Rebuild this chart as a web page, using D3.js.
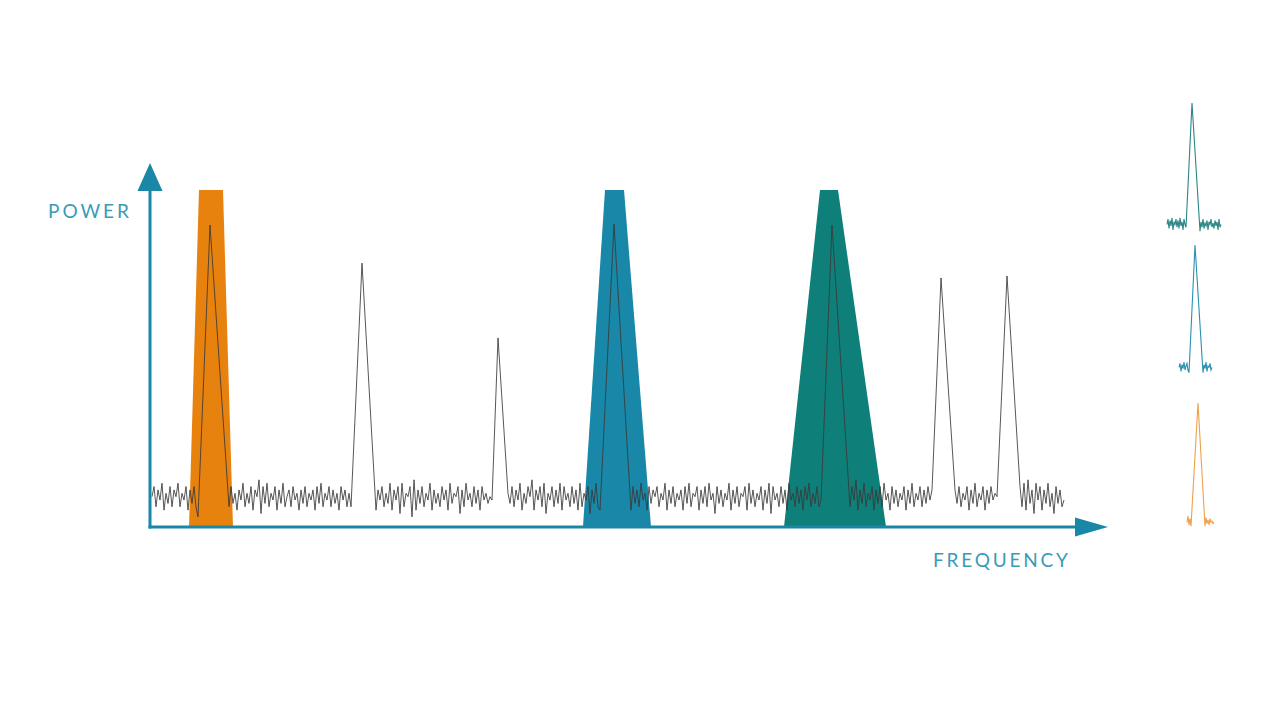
<!DOCTYPE html>
<html><head><meta charset="utf-8">
<script src="https://cdn.jsdelivr.net/npm/d3@7"></script>
<style>
html,body{margin:0;padding:0;background:#fff;}
svg{display:block;}
</style></head>
<body>
<svg id="c" width="1280" height="720"></svg>
<script>
// ---------- DATA ----------
// Frequency units 0..925, power units 0..100
const axisLabels = ["POWER", "FREQUENCY"];

// noise segments: start frequency, then sampled values every 2 units
const noiseStarts = [2, 79, 226, 358, 481, 700, 805, 870];
const noiseA = [9,12,6,11,8,13,5,10,7,12,6,11,9,13,6,10,8,12,5,11,7,12,6,3];
const noiseB = [6,12,7,10,5,11,8,13,6,10,7,12,5,11,9,14,4,12,7,13,6,10,8,12,5,11,7,13,6,9,11,6,12,8,10,5,11,7,12,6,10,8,11,5,12,7,13,6,10,8,12,6,11,7,10,5,12,8,11,6,10,6];
const noiseC = [5,11,8,12,6,10,7,13,5,11,8,12,4,13,6,10,9,12,3,14,5,11,7,12,6,10,8,13,5,11,7,10,6,12,8,11,5,13,7,10,9,12,4,11,6,13,8,10,6,12,7,11,5,12,8,10,7,9,8];
const noiseD = [10,7,12,6,11,8,13,5,10,7,12,9,14,5,11,8,12,6,13,4,10,8,12,6,11,7,13,5,12,8,10,6,12,7,11,5,13,6,10,8,12,4,11,7,13,6,5];
const noiseE = [5,12,7,11,6,13,8,10,5,12,7,11,9,12,6,10,8,13,5,11,7,12,6,10,8,11,5,12,7,13,6,10,9,12,5,11,7,12,6,13,8,10,4,12,7,11,6,10,8,13,5,11,7,12,6,10,9,12,5,13,7,11,6,10,8,12,5,11,7,13,4,12,8,10,6,12,7,11,5,13,8,10,6,12,7,11,5,12,8,13,6,10,7,12,6,8];
const noiseF = [6,12,8,14,5,11,7,13,6,10,8,12,5,11,7,12,6,13,8,10,5,12,7,11,6,10,8,12,5,11,7,13,6,10,8,12,6,11,7,12,8,11];
const noiseG = [11,7,12,6,10,8,12,5,11,7,13,6,10,8,12,5,11,7,12,8,10,9];
const noiseH = [12,6,13,5,14,7,11,4,13,8,12,5,11,7,13,6,10,4,12,7,11,6,8];
const noiseSegments = [noiseA, noiseB, noiseC, noiseD, noiseE, noiseF, noiseG, noiseH];

// peaks between segments
const peakFreq  = [60, 212, 348, 464, 682, 791, 857];
const peakPower = [89.6, 78.3, 56.1, 89.9, 89.6, 73.9, 74.5];

// highlighted bands: bottom left/right, top left/right (frequency), top power
const bandNames = ["orange", "blue", "green"];
const bandBottom = [[39, 83], [433, 501], [634, 736]];
const bandTop    = [[49, 73], [455, 474], [670, 688]];
const bandPower  = [100, 100, 100];

// mini spectra on the right (local frequency, local power)
const miniNoiseLeft = [
  [10,14,7,13,9,15,6,12,10,14,8,13,7,15,9,12,6,14,10,8],
  [8,11,5,10,7,12,6,9,11,6,4],
  [6,11,4,9,3]
];
const miniNoiseRight = [
  [5,12,8,14,7,11,9,13,6,12,10,14,8,11,7,13,9,12,6,14,8,10],
  [4,10,7,12,5,9,8,11,6,8],
  [3,10,5,8,4,9,6,7,5,6]
];
const miniLeftStart  = [0, 0, 0];
const miniRightStart = [33, 24, 18];
const miniPeakFreq   = [25, 16, 11];
const miniPeakPower  = [100, 100, 100];
const miniDomainX    = [55, 34, 28];

// ---------- LAYOUT ----------
const W = 1280, H = 720;
const plot = {left:150, right:1075, bottom:527, top:190};
const axisColor = "#1b87a6";
const textColor = "#3a9bb7";
const bandColors = ["#e8820e", "#1887a8", "#0f7f79"];
const miniColors = ["#2a8586", "#2b8fb0", "#eea04c"];
const miniBoxes = [
  {x0:1167, x1:1222, yBase:238, yTop:103},
  {x0:1179, x1:1213, yBase:378, yTop:245},
  {x0:1187, x1:1215, yBase:530, yTop:403}
];

const svg = d3.select("#c");
const x = d3.scaleLinear().domain([0, 925]).range([plot.left, plot.right]);
const y = d3.scaleLinear().domain([0, 100]).range([plot.bottom, plot.top]);

// bands
const bandData = bandNames.map((n, i) => [
  [bandBottom[i][0], 0], [bandTop[i][0], bandPower[i]],
  [bandTop[i][1], bandPower[i]], [bandBottom[i][1], 0]
]);
svg.append("g").selectAll("path").data(bandData).join("path")
  .attr("d", d => "M" + d.map(p => x(p[0]) + "," + y(p[1])).join("L") + "Z")
  .attr("fill", (d, i) => bandColors[i]);

// spectrum line
const series = [];
noiseSegments.forEach((seg, i) => {
  seg.forEach((v, j) => series.push({f: noiseStarts[i] + j * 2, p: v}));
  if (i < peakFreq.length) series.push({f: peakFreq[i], p: peakPower[i]});
});
const line = d3.line().x(d => x(d.f)).y(d => y(d.p));
svg.append("path").datum(series)
  .attr("d", line)
  .attr("fill", "none")
  .attr("stroke", "#3a3a3a")
  .attr("stroke-opacity", 0.85)
  .attr("stroke-width", 1)
  .attr("stroke-linejoin", "miter");

// axes
const gx = svg.append("g").attr("transform", `translate(0,${plot.bottom})`)
  .call(d3.axisBottom(x).tickValues([]).tickSizeOuter(0));
const gy = svg.append("g").attr("transform", `translate(${plot.left},0)`)
  .call(d3.axisLeft(y).tickValues([]).tickSizeOuter(0));
[gx, gy].forEach(g => g.select(".domain").attr("stroke", axisColor).attr("stroke-width", 3));
gx.select(".domain").attr("d", `M${plot.left - 1.5},0H${plot.right + 2}`);
gy.select(".domain").attr("d", `M0,${plot.bottom + 1.5}V${plot.top}`);

// arrowheads
svg.append("path")
  .attr("d", `M${plot.left},${plot.top - 27}L${plot.left - 12.5},${plot.top + 1}L${plot.left + 12.5},${plot.top + 1}Z`)
  .attr("fill", axisColor);
svg.append("path")
  .attr("d", `M${plot.right + 33},${plot.bottom}L${plot.right},${plot.bottom - 9.5}L${plot.right},${plot.bottom + 9.5}Z`)
  .attr("fill", axisColor);

// labels
svg.append("text").text(axisLabels[0])
  .attr("x", 48).attr("y", 218).attr("text-anchor", "start")
  .attr("font-family", "Lato, 'Open Sans', sans-serif").attr("font-size", 19)
  .attr("letter-spacing", 3).attr("fill", textColor);
svg.append("text").text(axisLabels[1])
  .attr("x", 933).attr("y", 566.5).attr("text-anchor", "start")
  .attr("font-family", "Lato, 'Open Sans', sans-serif").attr("font-size", 19)
  .attr("letter-spacing", 2.8).attr("fill", textColor);

// mini spectra
miniBoxes.forEach((b, i) => {
  const mx = d3.scaleLinear().domain([0, miniDomainX[i]]).range([b.x0, b.x1]);
  const my = d3.scaleLinear().domain([0, 100]).range([b.yBase, b.yTop]);
  const pts = [];
  miniNoiseLeft[i].forEach((v, j) => pts.push({f: miniLeftStart[i] + j, p: v}));
  pts.push({f: miniPeakFreq[i], p: miniPeakPower[i]});
  miniNoiseRight[i].forEach((v, j) => pts.push({f: miniRightStart[i] + j, p: v}));
  svg.append("path").datum(pts)
    .attr("d", d3.line().x(d => mx(d.f)).y(d => my(d.p)))
    .attr("fill", "none").attr("stroke", miniColors[i]).attr("stroke-width", 1.1);
});
</script>
</body></html>
